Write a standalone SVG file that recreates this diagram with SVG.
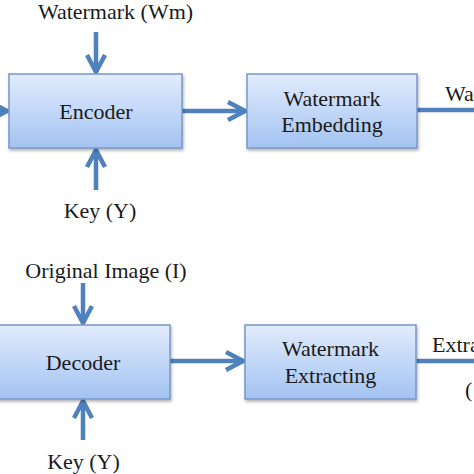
<svg xmlns="http://www.w3.org/2000/svg" width="474" height="474" viewBox="0 0 474 474">
<style>
.box{fill:url(#g);stroke:#7896c8;stroke-width:1.5;filter:url(#sh)}
.t{font-family:"Liberation Serif","Times New Roman",serif;font-size:22px;fill:#1a1a1a}
.c{fill:none;stroke:#4f81bd;stroke-width:4.5}
</style>
<defs>
<linearGradient id="g" x1="0" y1="0" x2="0" y2="1">
<stop offset="0" stop-color="#e2ecfd"/>
<stop offset="1" stop-color="#a3c3f2"/>
</linearGradient>
<filter id="sh" x="-10%" y="-10%" width="125%" height="130%">
<feDropShadow dx="1" dy="2" stdDeviation="1.5" flood-color="#000" flood-opacity="0.3"/>
</filter>
<marker id="ah" markerUnits="userSpaceOnUse" viewBox="-22 -12 26 24" markerWidth="26" markerHeight="24" refX="0" refY="0" orient="auto">
<path d="M-17,-9 L0,0 L-17,9" fill="none" stroke="#4f81bd" stroke-width="4.5"/>
</marker>
</defs>
<rect width="474" height="474" fill="#fff"/>
<g id="connectors">
<line class="c" x1="-10" y1="111" x2="7" y2="111" marker-end="url(#ah)"/>
<line class="c" x1="96" y1="32" x2="96" y2="72" marker-end="url(#ah)"/>
<line class="c" x1="96" y1="190" x2="96" y2="150" marker-end="url(#ah)"/>
<line class="c" x1="182" y1="111" x2="245" y2="111" marker-end="url(#ah)"/>
<line class="c" x1="417" y1="110" x2="480" y2="110"/>
<line class="c" x1="83" y1="283" x2="83" y2="323" marker-end="url(#ah)"/>
<line class="c" x1="83" y1="440" x2="83" y2="401" marker-end="url(#ah)"/>
<line class="c" x1="170" y1="361" x2="243" y2="361" marker-end="url(#ah)"/>
<line class="c" x1="416" y1="361" x2="480" y2="361"/>
</g>
<g id="label-watermark"><text class="t" x="115.5" y="19" text-anchor="middle">Watermark (Wm)</text></g>
<g id="label-key1"><text class="t" x="100" y="218" text-anchor="middle">Key (Y)</text></g>
<g id="encoder">
<rect class="box" x="9" y="74" width="173" height="74"/>
<text class="t" x="96" y="119" text-anchor="middle">Encoder</text>
</g>
<g id="embedding">
<rect class="box" x="247" y="74" width="170" height="74"/>
<text class="t" x="332" y="106" text-anchor="middle">Watermark</text>
<text class="t" x="332" y="132" text-anchor="middle">Embedding</text>
</g>
<g id="label-out1"><text class="t" x="445" y="101">Wa</text></g>
<g id="label-original"><text class="t" x="106" y="278" text-anchor="middle">Original Image (I)</text></g>
<g id="label-key2"><text class="t" x="83.5" y="469" text-anchor="middle">Key (Y)</text></g>
<g id="decoder">
<rect class="box" x="-5" y="325" width="175" height="74"/>
<text class="t" x="83" y="370" text-anchor="middle">Decoder</text>
</g>
<g id="extracting">
<rect class="box" x="245" y="325" width="171" height="74"/>
<text class="t" x="330.5" y="356" text-anchor="middle">Watermark</text>
<text class="t" x="330.5" y="383" text-anchor="middle">Extracting</text>
</g>
<g id="label-out2">
<text class="t" x="432" y="352">Extra</text>
<text class="t" x="465" y="397">(</text>
</g>
</svg>
